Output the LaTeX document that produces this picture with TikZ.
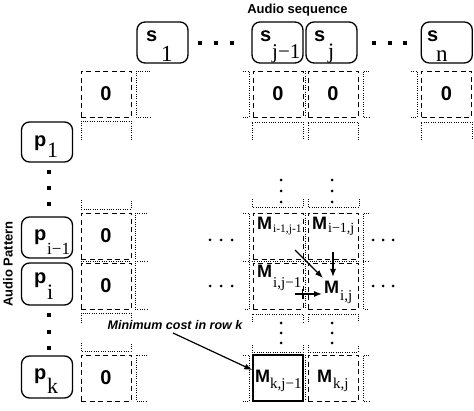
\documentclass[tikz,border=0pt]{standalone}
\usepackage{fontspec}
\setmainfont{Liberation Serif}
\newfontfamily\hv{Liberation Sans}
\usetikzlibrary{arrows.meta}
\newcommand{\sq}[2]{\fill (#1-2,#2-2) rectangle (#1+2,#2+2);}
\newcommand{\rd}[2]{\fill (#1,#2) circle (1.5pt);}
\tikzset{
  sbox/.style={draw, line width=1.3pt, rounded corners=8pt, minimum width=51pt, minimum height=41pt, inner sep=0pt},
  cell/.style={draw, line width=0.8pt, dash pattern=on 5pt off 3.5pt, minimum width=50pt, minimum height=46pt, inner sep=0pt},
  mincell/.style={draw, line width=1.4pt, minimum width=50pt, minimum height=46pt, inner sep=0pt},
  ghost/.style={line width=0.7pt, dash pattern=on 0.7pt off 1.6pt},
  mtxt/.style={anchor=base west, inner sep=0pt, font=\hv\bfseries\fontsize{20}{20}\selectfont},
  mm/.style={anchor=base west, inner sep=0pt, font=\hv\bfseries\fontsize{18}{18}\selectfont},
  stxt/.style={anchor=base west, inner sep=0pt, font=\rmfamily\fontsize{#1}{#1}\selectfont},
  zero/.style={inner sep=0pt, font=\hv\bfseries\fontsize{20}{20}\selectfont},
  arr/.style={line width=1.2pt, -{Latex[length=8pt,width=6pt]}},
  title/.style={inner sep=0pt, font=\hv\bfseries\fontsize{13}{13}\selectfont},
}
\begin{document}
\begin{tikzpicture}[x=1pt,y=-1pt]
\useasboundingbox (0,0) rectangle (474,411);

% titles
\node[title] (tseq) at (297.5,10) {Audio sequence};
\node[title, rotate=90] (tpat) at (8,264) {Audio Pattern};

% sequence boxes
\node[sbox] (s1) at (162.5,42.5) {};
\node[sbox] (sj1) at (277.5,42.5) {};
\node[sbox] (sj) at (331.5,42.5) {};
\node[sbox] (sn) at (446.8,42.5) {};
\node[mtxt] (s1a) at (146,42) {s};
\node[stxt=23] (s1b) at (161,62) {1};
\node[mtxt] (sj1a) at (260,42) {s};
\node[stxt=21] (sj1b) at (272,59) {j−1};
\node[mtxt] (sja) at (314,42) {s};
\node[stxt=22] (sjb) at (328,59) {j};
\node[mtxt] (sna) at (427,42) {s};
\node[stxt=23] (snb) at (436,62) {n};

% pattern boxes
\node[sbox, minimum height=40pt] (p1) at (47,142) {};
\node[sbox] (pi1) at (47,237.5) {};
\node[sbox, minimum height=42pt] (pi) at (47,284) {};
\node[sbox, minimum height=42pt] (pk) at (47,377) {};
\node[mtxt] (p1a) at (34,147) {p};
\node[stxt=22] (p1b) at (47,158) {1};
\node[mtxt] (pi1a) at (34,241) {p};
\node[stxt=17] (pi1b) at (47,255) {i−1};
\node[mtxt] (pia) at (34,284) {p};
\node[stxt=22] (pib) at (47,300) {i};
\node[mtxt] (pka) at (34,380) {p};
\node[stxt=22] (pkb) at (47,394) {k};

% big square dots
\sq{200}{43} \sq{216}{43} \sq{232}{43}
\sq{374}{43} \sq{390}{43} \sq{405}{43}
\sq{49}{172} \sq{49}{188} \sq{49}{204}
\sq{49}{315} \sq{49}{332} \sq{49}{348}

% zero cells
\node[cell] (z0) at (106,94) {};
\node[cell] (zA) at (278,94) {};
\node[cell] (zB) at (333,94) {};
\node[cell] (zN) at (446.5,94) {};
\node[cell] (zi1) at (106,236) {};
\node[cell] (zi) at (106,286) {};
\node[cell] (zk) at (106,378) {};
\foreach \n in {z0,zA,zB,zN,zi1,zi,zk} {\node[zero] at (\n) {0};}

% M cells
\node[cell] (m11) at (278,236) {};
\node[cell] (m12) at (333,236) {};
\node[cell] (m21) at (278,286) {};
\node[cell] (m22) at (333,286) {};
\node[mincell] (mk1) at (278,378) {};
\node[cell] (mk2) at (333,378) {};

\node[mm] (m11a) at (257,230) {M};
\node[stxt=11.5] (m11b) at (273,233) {i-1,j-1};
\node[mm] (m12a) at (312,230) {M};
\node[stxt=14] (m12b) at (328,233) {i−1,j};
\node[mm] (m21a) at (257,278) {M};
\node[stxt=15] (m21b) at (273,288) {i,j−1};
\node[mm] (m22a) at (324,294) {M};
\node[stxt=15] (m22b) at (340,301) {i,j};
\node[mm] (mk1a) at (255,383) {M};
\node[stxt=15] (mk1b) at (270,389) {k,j−1};
\node[mm] (mk2a) at (317,383) {M};
\node[stxt=15] (mk2b) at (333,389) {k,j};

% small round dots
\rd{210}{240} \rd{221}{240} \rd{232}{240}
\rd{210}{286} \rd{221}{286} \rd{232}{286}
\rd{373}{240} \rd{383}{240} \rd{393}{240}
\rd{373}{286} \rd{383}{286} \rd{393}{286}
\rd{281}{180} \rd{281}{191} \rd{281}{202}
\rd{332}{180} \rd{332}{191} \rd{332}{202}
\rd{281}{323} \rd{281}{333} \rd{281}{343}
\rd{332}{323} \rd{332}{333} \rd{332}{343}

% dotted ghost outlines
% row 0
\draw[ghost] (150,71)--(136,71)--(136,117)--(150,117);
\draw[ghost] (81,140)--(81,121)--(131,121)--(131,140);
\draw[ghost] (243,71)--(249,71)--(249,117)--(243,117);
\draw[ghost] (369,71)--(363,71)--(363,117)--(369,117);
\draw[ghost] (252,140)--(252,122)--(303,122)--(303,140);
\draw[ghost] (308,140)--(308,122)--(358,122)--(358,140);
\draw[ghost] (305.5,71)--(305.5,117);
\draw[ghost] (411,71)--(417,71)--(417,117)--(411,117);
\draw[ghost] (421,140)--(421,122)--(472,122)--(472,140);
% rows i-1, i, column 0
\draw[ghost] (81,200)--(81,209)--(131,209)--(131,200);
\draw[ghost] (147,213)--(135,213)--(135,309)--(147,309);
\draw[ghost] (135,261)--(147,261);
\draw[ghost] (81,261)--(131,261);
\draw[ghost] (81,323)--(81,313)--(131,313)--(131,323);
% row k, column 0
\draw[ghost] (81,343)--(81,351)--(131,351)--(131,343);
\draw[ghost] (147,355)--(136,355)--(136,401)--(147,401);
% M block
\draw[ghost] (252,199)--(252,207)--(303,207)--(303,199);
\draw[ghost] (308,199)--(308,207)--(359,207)--(359,199);
\draw[ghost] (243,213)--(249,213)--(249,309)--(243,309);
\draw[ghost] (243,261)--(249,261);
\draw[ghost] (369,213)--(363,213)--(363,309)--(369,309);
\draw[ghost] (363,261)--(369,261);
\draw[ghost] (305.5,213)--(305.5,309);
\draw[ghost] (252,261)--(358,261);
\draw[ghost] (252,322)--(252,314)--(303,314)--(303,322);
\draw[ghost] (308,322)--(308,314)--(358,314)--(358,322);
% row k, M
\draw[ghost] (252,345)--(252,352)--(303,352)--(303,345);
\draw[ghost] (308,345)--(308,352)--(358,352)--(358,345);
\draw[ghost] (243,355)--(249,355)--(249,401)--(243,401);
\draw[ghost] (369,355)--(363,355)--(363,401)--(369,401);
\draw[ghost] (305.5,355)--(305.5,401);

% arrows
\coordinate (d1) at (295,250);
\coordinate (d2) at (323,278);
\coordinate (v1) at (333,252);
\coordinate (v2) at (333,277);
\coordinate (h1) at (295,294);
\coordinate (h2) at (322,294);
\draw[arr] (d1) -- (d2);
\draw[arr] (v1) -- (v2);
\draw[arr] (h1) -- (h2);
\draw[line width=0.8pt] (302.5,289) -- (302.5,299);

% minimum cost annotation
\node[inner sep=0pt, font=\hv\bfseries\itshape\fontsize{12.5}{12.5}\selectfont] (mc) at (175,325) {Minimum cost in row k};
\coordinate (mcs) at (173,333);
\draw[arr] (mcs) -- (mk1.west |- 0,370);
\end{tikzpicture}
\end{document}
